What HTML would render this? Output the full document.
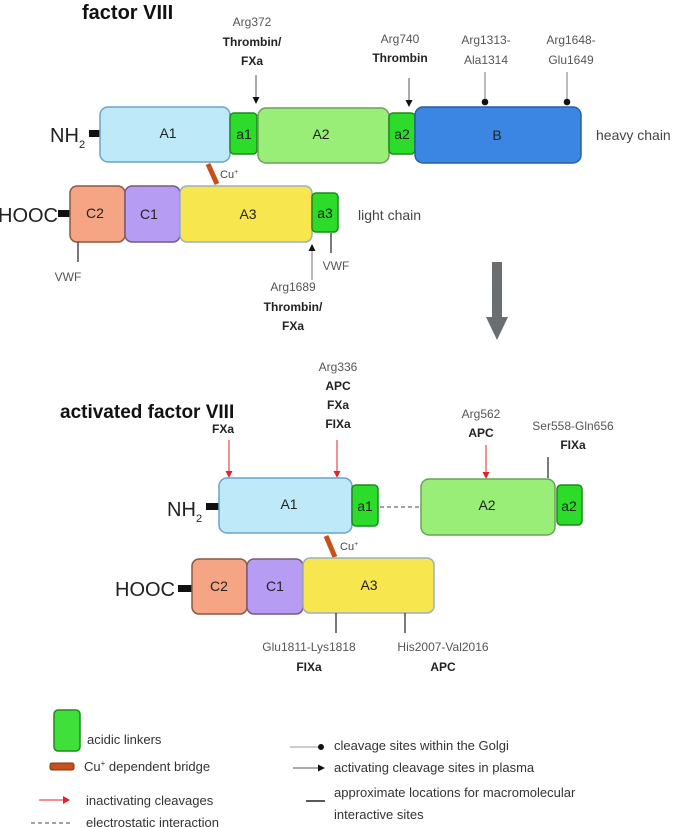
<!DOCTYPE html>
<html><head><meta charset="utf-8"><style>
html,body{margin:0;padding:0;background:#fff}
svg{display:block;font-family:"Liberation Sans",sans-serif}
.l{font-size:12px;fill:#555;text-anchor:middle}
.b{font-size:12px;fill:#222;font-weight:bold;text-anchor:middle}
.bx{font-size:14px;fill:#222;text-anchor:middle}
.lg{font-size:13px;fill:#333}
</style></head><body>
<svg width="685" height="827" viewBox="0 0 685 827">
<text x="82" y="19" font-size="20" font-weight="bold" fill="#111">factor VIII</text>

<!-- heavy chain -->
<rect x="89" y="130" width="12" height="7" fill="#111"/>
<text x="50" y="142" font-size="20" fill="#222">NH</text><text x="79" y="148" font-size="11" fill="#222">2</text>
<rect x="100" y="107" width="130" height="55" rx="8" fill="#bde9f8" stroke="#6aa3c8" stroke-width="1.5"/>
<rect x="230" y="113" width="27" height="41" rx="4" fill="#2ddc2a" stroke="#1d8a1a" stroke-width="1.5"/>
<rect x="258" y="108" width="131" height="55" rx="8" fill="#99ee77" stroke="#6aa05a" stroke-width="1.5"/>
<rect x="389" y="113" width="26" height="41" rx="4" fill="#2ddc2a" stroke="#1d8a1a" stroke-width="1.5"/>
<rect x="415" y="107" width="166" height="56" rx="8" fill="#3a86e2" stroke="#2a5f9e" stroke-width="1.5"/>
<text class="bx" x="168" y="138">A1</text><text class="bx" x="244" y="139">a1</text>
<text class="bx" x="321" y="139">A2</text><text class="bx" x="402" y="139">a2</text>
<text class="bx" x="497" y="140">B</text>
<text x="596" y="140" font-size="14" fill="#444">heavy chain</text>

<!-- labels top -->
<text class="l" x="252" y="26">Arg372</text><text class="b" x="252" y="46">Thrombin/</text><text class="b" x="252" y="65">FXa</text>
<line x1="256" y1="75" x2="256" y2="98" stroke="#555" stroke-width="1"/><path d="M252.5,97 L259.5,97 L256,104 Z" fill="#111"/>
<text class="l" x="400" y="43">Arg740</text><text class="b" x="400" y="62">Thrombin</text>
<line x1="409" y1="78" x2="409" y2="101" stroke="#555" stroke-width="1"/><path d="M405.5,100 L412.5,100 L409,107 Z" fill="#111"/>
<text class="l" x="486" y="44">Arg1313-</text><text class="l" x="486" y="64">Ala1314</text>
<line x1="485" y1="72" x2="485" y2="102" stroke="#777" stroke-width="1"/><circle cx="485" cy="102" r="3.3" fill="#111"/>
<text class="l" x="571" y="44">Arg1648-</text><text class="l" x="571" y="64">Glu1649</text>
<line x1="567" y1="72" x2="567" y2="102" stroke="#777" stroke-width="1"/><circle cx="567" cy="102" r="3.3" fill="#111"/>

<!-- Cu bridge -->
<line x1="208" y1="164" x2="217" y2="184" stroke="#c8501a" stroke-width="5"/>
<text x="220" y="178" font-size="11" fill="#444">Cu<tspan font-size="7" dy="-4">+</tspan></text>

<!-- light chain -->
<rect x="58" y="210" width="13" height="7" fill="#111"/>
<text x="-2" y="222" font-size="20" fill="#222">HOOC</text>
<rect x="70" y="186" width="55" height="56" rx="7" fill="#f5a584" stroke="#8a5a40" stroke-width="1.5"/>
<rect x="125" y="186" width="55" height="56" rx="7" fill="#b69cf2" stroke="#7a5a7a" stroke-width="1.5"/>
<rect x="180" y="186" width="132" height="56" rx="7" fill="#f7e64e" stroke="#9ab0c0" stroke-width="1.5"/>
<rect x="312" y="193" width="26" height="39" rx="4" fill="#2ddc2a" stroke="#1d8a1a" stroke-width="1.5"/>
<text class="bx" x="95" y="218">C2</text><text class="bx" x="149" y="219">C1</text>
<text class="bx" x="248" y="219">A3</text><text class="bx" x="325" y="218">a3</text>
<text x="358" y="220" font-size="14" fill="#444">light chain</text>
<line x1="78" y1="242" x2="78" y2="262" stroke="#222" stroke-width="1.2"/>
<text class="l" x="68" y="281">VWF</text>
<line x1="331" y1="233" x2="331" y2="253" stroke="#222" stroke-width="1.2"/>
<text class="l" x="336" y="270">VWF</text>
<line x1="312" y1="280" x2="312" y2="249" stroke="#777" stroke-width="1"/><path d="M308.5,251 L315.5,251 L312,244 Z" fill="#111"/>
<text class="l" x="293" y="291">Arg1689</text><text class="b" x="293" y="311">Thrombin/</text><text class="b" x="293" y="330">FXa</text>

<!-- gray arrow -->
<rect x="492" y="262" width="10" height="56" fill="#6b6e70"/>
<path d="M486,317 L508,317 L497,340 Z" fill="#6b6e70"/>

<!-- activated -->
<text x="60" y="418" font-size="19" font-weight="bold" fill="#111">activated factor VIII</text>
<text class="b" x="223" y="433">FXa</text>
<text class="l" x="338" y="371">Arg336</text><text class="b" x="338" y="390">APC</text><text class="b" x="338" y="409">FXa</text><text class="b" x="338" y="428">FIXa</text>
<text class="l" x="481" y="418">Arg562</text><text class="b" x="481" y="437">APC</text>
<text class="l" x="573" y="430">Ser558-Gln656</text><text class="b" x="573" y="449">FIXa</text>
<line x1="229" y1="440" x2="229" y2="472" stroke="#e8202a" stroke-width="1"/><path d="M225.5,471 L232.5,471 L229,478 Z" fill="#e8202a"/>
<line x1="337" y1="440" x2="337" y2="472" stroke="#e8202a" stroke-width="1"/><path d="M333.5,471 L340.5,471 L337,478 Z" fill="#e8202a"/>
<line x1="486" y1="445" x2="486" y2="473" stroke="#e8202a" stroke-width="1"/><path d="M482.5,472 L489.5,472 L486,479 Z" fill="#e8202a"/>
<line x1="548" y1="457" x2="548" y2="478" stroke="#222" stroke-width="1.2"/>

<rect x="206" y="503" width="13" height="7" fill="#111"/>
<text x="167" y="516" font-size="20" fill="#222">NH</text><text x="196" y="522" font-size="11" fill="#222">2</text>
<rect x="219" y="478" width="133" height="55" rx="8" fill="#bde9f8" stroke="#6aa3c8" stroke-width="1.5"/>
<rect x="352" y="485" width="26" height="41" rx="4" fill="#2ddc2a" stroke="#1d8a1a" stroke-width="1.5"/>
<line x1="380" y1="507" x2="421" y2="507" stroke="#444" stroke-width="1" stroke-dasharray="4,3"/>
<rect x="421" y="479" width="134" height="56" rx="8" fill="#99ee77" stroke="#6aa05a" stroke-width="1.5"/>
<rect x="557" y="485" width="25" height="40" rx="4" fill="#2ddc2a" stroke="#1d8a1a" stroke-width="1.5"/>
<text class="bx" x="289" y="509">A1</text><text class="bx" x="365" y="511">a1</text>
<text class="bx" x="487" y="510">A2</text><text class="bx" x="569" y="511">a2</text>

<line x1="326" y1="536" x2="335" y2="557" stroke="#c8501a" stroke-width="5"/>
<text x="340" y="550" font-size="11" fill="#444">Cu<tspan font-size="7" dy="-4">+</tspan></text>

<rect x="178" y="585" width="15" height="7" fill="#111"/>
<text x="115" y="596" font-size="20" fill="#222">HOOC</text>
<rect x="192" y="559" width="55" height="55" rx="7" fill="#f5a584" stroke="#8a5a40" stroke-width="1.5"/>
<rect x="247" y="559" width="56" height="55" rx="7" fill="#b69cf2" stroke="#7a5a7a" stroke-width="1.5"/>
<rect x="303" y="558" width="131" height="55" rx="7" fill="#f7e64e" stroke="#9ab0c0" stroke-width="1.5"/>
<text class="bx" x="219" y="591">C2</text><text class="bx" x="275" y="591">C1</text><text class="bx" x="369" y="590">A3</text>
<line x1="336" y1="613" x2="336" y2="633" stroke="#222" stroke-width="1.2"/>
<line x1="405" y1="613" x2="405" y2="633" stroke="#222" stroke-width="1.2"/>
<text class="l" x="309" y="651">Glu1811-Lys1818</text><text class="b" x="309" y="671">FIXa</text>
<text class="l" x="443" y="651">His2007-Val2016</text><text class="b" x="443" y="671">APC</text>

<!-- legend -->
<rect x="54" y="710" width="26" height="41" rx="4" fill="#3fe03a" stroke="#1d8a1a" stroke-width="1.5"/>
<text class="lg" x="87" y="744">acidic linkers</text>
<rect x="50" y="763" width="24" height="7" rx="2" fill="#c8501a" stroke="#7a3a10" stroke-width="1"/>
<text class="lg" x="84" y="771">Cu<tspan font-size="8" dy="-5">+</tspan><tspan dy="5"> dependent bridge</tspan></text>
<line x1="39" y1="800" x2="64" y2="800" stroke="#e8202a" stroke-width="1"/><path d="M63,796 L70,800 L63,804 Z" fill="#e8202a"/>
<text class="lg" x="86" y="805">inactivating cleavages</text>
<line x1="31" y1="823" x2="72" y2="823" stroke="#444" stroke-width="1" stroke-dasharray="4,3"/>
<text class="lg" x="86" y="827">electrostatic interaction</text>
<line x1="290" y1="747" x2="321" y2="747" stroke="#999" stroke-width="1"/><circle cx="321" cy="747" r="3" fill="#111"/>
<text class="lg" x="334" y="750">cleavage sites within the Golgi</text>
<line x1="293" y1="768" x2="319" y2="768" stroke="#555" stroke-width="1"/><path d="M318,764.5 L325,768 L318,771.5 Z" fill="#111"/>
<text class="lg" x="334" y="772">activating cleavage sites in plasma</text>
<line x1="306" y1="801" x2="325" y2="801" stroke="#222" stroke-width="1.5"/>
<text class="lg" x="334" y="797">approximate locations for macromolecular</text>
<text class="lg" x="334" y="819">interactive sites</text>
</svg>
</body></html>
